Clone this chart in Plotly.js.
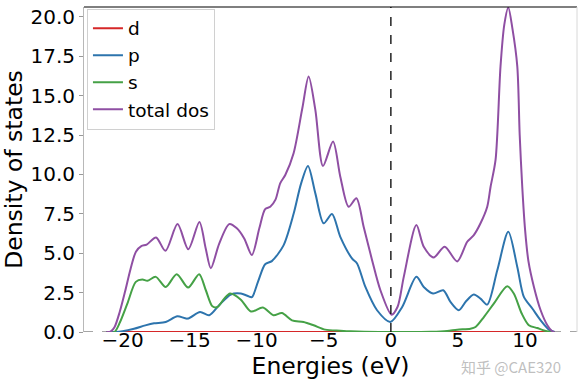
<!DOCTYPE html>
<html>
<head>
<meta charset="utf-8">
<script src="https://cdn.plot.ly/plotly-3.0.1.min.js"></script>
<style>html,body{margin:0;padding:0;background:#fff;}#chart{width:585px;height:390px;}</style>
</head>
<body>
<div id="chart"></div>
<script>
// ---- data ----
const seriesNames = ["d", "p", "s", "total dos"];
const seriesColors = ["#d62728", "#2d74ad", "#45a146", "#8f4fa3"];

const energyD = [-21.2, -15, -10, -5, 0, 5, 10, 12.2];
const dosD    = [0, 0, 0, 0, 0, 0, 0, 0];

const energyP = [-21.2, -20.5, -20.0, -19.14, -18.3, -17.65, -16.78, -15.91, -15.16, -14.22, -13.54, -12.8, -11.93, -11.18, -10.7, -10.36, -9.9, -9.37, -8.87, -8.0, -7.25, -6.7, -6.18, -5.63, -5.01, -4.39, -3.77, -2.9, -2.52, -1.9, -1.03, -0.04, 0.84, 1.9, 2.45, 3.15, 3.9, 4.44, 5.06, 5.6, 6.18, 6.7, 7.18, 7.93, 8.75, 9.42, 9.91, 10.54, 11.16, 11.78, 12.2];
const dosP    = [0, 0, 0.05, 0.21, 0.42, 0.55, 0.64, 1.0, 0.85, 1.27, 1.06, 1.7, 2.38, 2.44, 2.3, 2.21, 3.2, 4.3, 4.5, 5.5, 7.5, 9.4, 10.54, 8.8, 6.9, 7.49, 6.04, 4.67, 4.35, 2.86, 1.38, 0.64, 1.59, 3.5, 2.86, 2.44, 2.65, 1.91, 1.38, 1.95, 2.38, 2.1, 1.74, 3.92, 6.36, 4.13, 2.23, 1.49, 0.74, 0.15, 0];

const energyS = [-21.2, -20.6, -20.2, -19.64, -19.01, -18.52, -18.15, -17.52, -16.78, -15.96, -15.11, -14.29, -13.79, -13.3, -12.92, -12.42, -11.98, -11.18, -10.43, -9.54, -8.75, -8.12, -7.37, -6.51, -5.76, -4.89, -3.77, -3.0, -2.0, 0, 3.0, 4.19, 4.94, 5.93, 6.31, 6.93, 7.67, 8.67, 9.16, 9.75, 10.28, 10.91, 11.4, 11.9, 12.2];
const dosS    = [0, 0, 0.6, 1.8, 3.18, 3.33, 3.25, 3.5, 2.86, 3.67, 2.82, 3.67, 2.65, 1.63, 1.59, 2.12, 2.44, 2.05, 1.3, 1.55, 1.06, 1.2, 0.74, 0.64, 0.43, 0.15, 0.08, 0.04, 0.01, 0, 0.01, 0.06, 0.15, 0.21, 0.32, 0.95, 1.8, 2.9, 2.44, 1.17, 0.43, 0.25, 0.1, 0.02, 0];

const energyTotal = [-21.2, -20.9, -20.6, -20.2, -19.8, -19.4, -19.0, -18.6, -18.2, -17.5, -16.8, -15.9, -15.1, -14.27, -13.8, -13.42, -12.8, -12.05, -11.5, -10.93, -10.36, -9.8, -9.37, -8.99, -8.6, -8.25, -7.87, -7.25, -6.6, -6.13, -5.63, -5.06, -4.31, -3.77, -3.15, -2.57, -2.03, -1.4, -0.78, 0.05, 0.5, 0.96, 1.9, 2.45, 3.19, 4.01, 4.94, 5.69, 6.18, 6.68, 7.18, 7.43, 7.8, 8.17, 8.45, 8.75, 9.05, 9.42, 9.6, 9.79, 10.0, 10.25, 10.66, 11.16, 11.66, 12.0, 12.2];
const dosTotal    = [0, 0.02, 0.3, 1.3, 2.6, 4.0, 5.1, 5.45, 5.55, 6.0, 5.15, 6.85, 5.25, 6.98, 5.3, 4.05, 5.6, 6.85, 6.6, 5.94, 4.88, 6.6, 7.8, 7.95, 8.4, 9.44, 9.97, 11.35, 14.2, 16.22, 14.1, 10.54, 12.09, 9.86, 7.95, 8.49, 6.68, 4.56, 2.65, 1.1, 1.6, 3.5, 6.79, 5.41, 4.73, 5.41, 4.48, 5.73, 6.15, 6.9, 7.95, 9.22, 10.92, 16.86, 19.5, 20.6, 19.3, 16.86, 12.5, 9.22, 6.5, 4.5, 2.86, 1.38, 0.43, 0.06, 0];

const xTickVals = [-20, -15, -10, -5, 0, 5, 10];
const xTickText = ["\u221220", "\u221215", "\u221210", "\u22125", "0", "5", "10"];
const yTickVals = [0, 2.5, 5, 7.5, 10, 12.5, 15, 17.5, 20];
const yTickText = ["0.0", "2.5", "5.0", "7.5", "10.0", "12.5", "15.0", "17.5", "20.0"];
const xRange = [-22.87, 13.87];
const yRange = [0, 20.63];
const fermiLevel = 0;
const xTitle = "Energies (eV)";
const yTitle = "Density of states";
const watermark = "知乎 @CAE320";

// ---- build traces ----
const xs = [energyD, energyP, energyS, energyTotal];
const ys = [dosD, dosP, dosS, dosTotal];
const traces = seriesNames.map((n, i) => ({
  type: "scatter", mode: "lines", name: n,
  x: xs[i], y: ys[i],
  line: {color: seriesColors[i], width: 2, shape: "spline", smoothing: 0.8},
  hoverinfo: "skip"
}));

const font = "DejaVu Sans, Liberation Sans, sans-serif";
const layout = {
  width: 585, height: 390,
  margin: {l: 84, r: 8, t: 7, b: 58, pad: 0},
  paper_bgcolor: "#ffffff", plot_bgcolor: "#ffffff",
  font: {family: font, size: 20, color: "#000"},
  showlegend: true,
  legend: {
    x: 0.006, y: 0.995, xanchor: "left", yanchor: "top",
    bgcolor: "rgba(255,255,255,0.8)", bordercolor: "#d0d0d0", borderwidth: 1,
    font: {family: font, size: 18.5, color: "#000"},
    itemwidth: 30, tracegroupgap: 0
  },
  xaxis: {
    range: xRange, tickmode: "array", tickvals: xTickVals, ticktext: xTickText,
    ticks: "", ticklabelposition: "outside", ticklabelstandoff: -6,
    showgrid: false, zeroline: false, showline: false,
    tickfont: {family: font, size: 20, color: "#000"},
    title: {text: xTitle, font: {family: font, size: 23.5, color: "#000"}, standoff: 0}
  },
  yaxis: {
    range: yRange, tickmode: "array", tickvals: yTickVals, ticktext: yTickText,
    ticks: "outside", ticklen: 4, tickcolor: "#999", tickwidth: 1,
    showgrid: false, zeroline: false, showline: true, linecolor: "#b8b8b8", linewidth: 1,
    tickfont: {family: font, size: 20, color: "#000"},
    title: {text: yTitle, font: {family: font, size: 23.5, color: "#000"}, standoff: 6}
  },
  shapes: [
    {type: "line", xref: "paper", yref: "y", x0: 0, x1: 1, y0: 0, y1: 0, layer: "below",
     line: {color: "#888", width: 1.3, dash: "dash"}},
    {type: "line", xref: "x", yref: "paper", x0: fermiLevel, x1: fermiLevel, y0: 0, y1: 1,
     line: {color: "#000", width: 1.3, dash: "dash"}},
    {type: "line", xref: "paper", yref: "paper", x0: 0, x1: 1, y0: 1, y1: 1,
     line: {color: "#000", width: 1.2}},
    {type: "line", xref: "paper", yref: "paper", x0: 1, x1: 1, y0: 0, y1: 1,
     line: {color: "#d8d8d8", width: 1}}
  ],
  annotations: [
    {text: watermark, xref: "paper", yref: "paper", x: 0.866, y: -0.105,
     xanchor: "center", yanchor: "middle", showarrow: false,
     font: {family: "Noto Sans CJK SC, sans-serif", size: 15, color: "rgba(170,170,170,0.75)"}}
  ]
};

Plotly.newPlot("chart", traces, layout, {staticPlot: true, displayModeBar: false});
</script>
</body>
</html>
